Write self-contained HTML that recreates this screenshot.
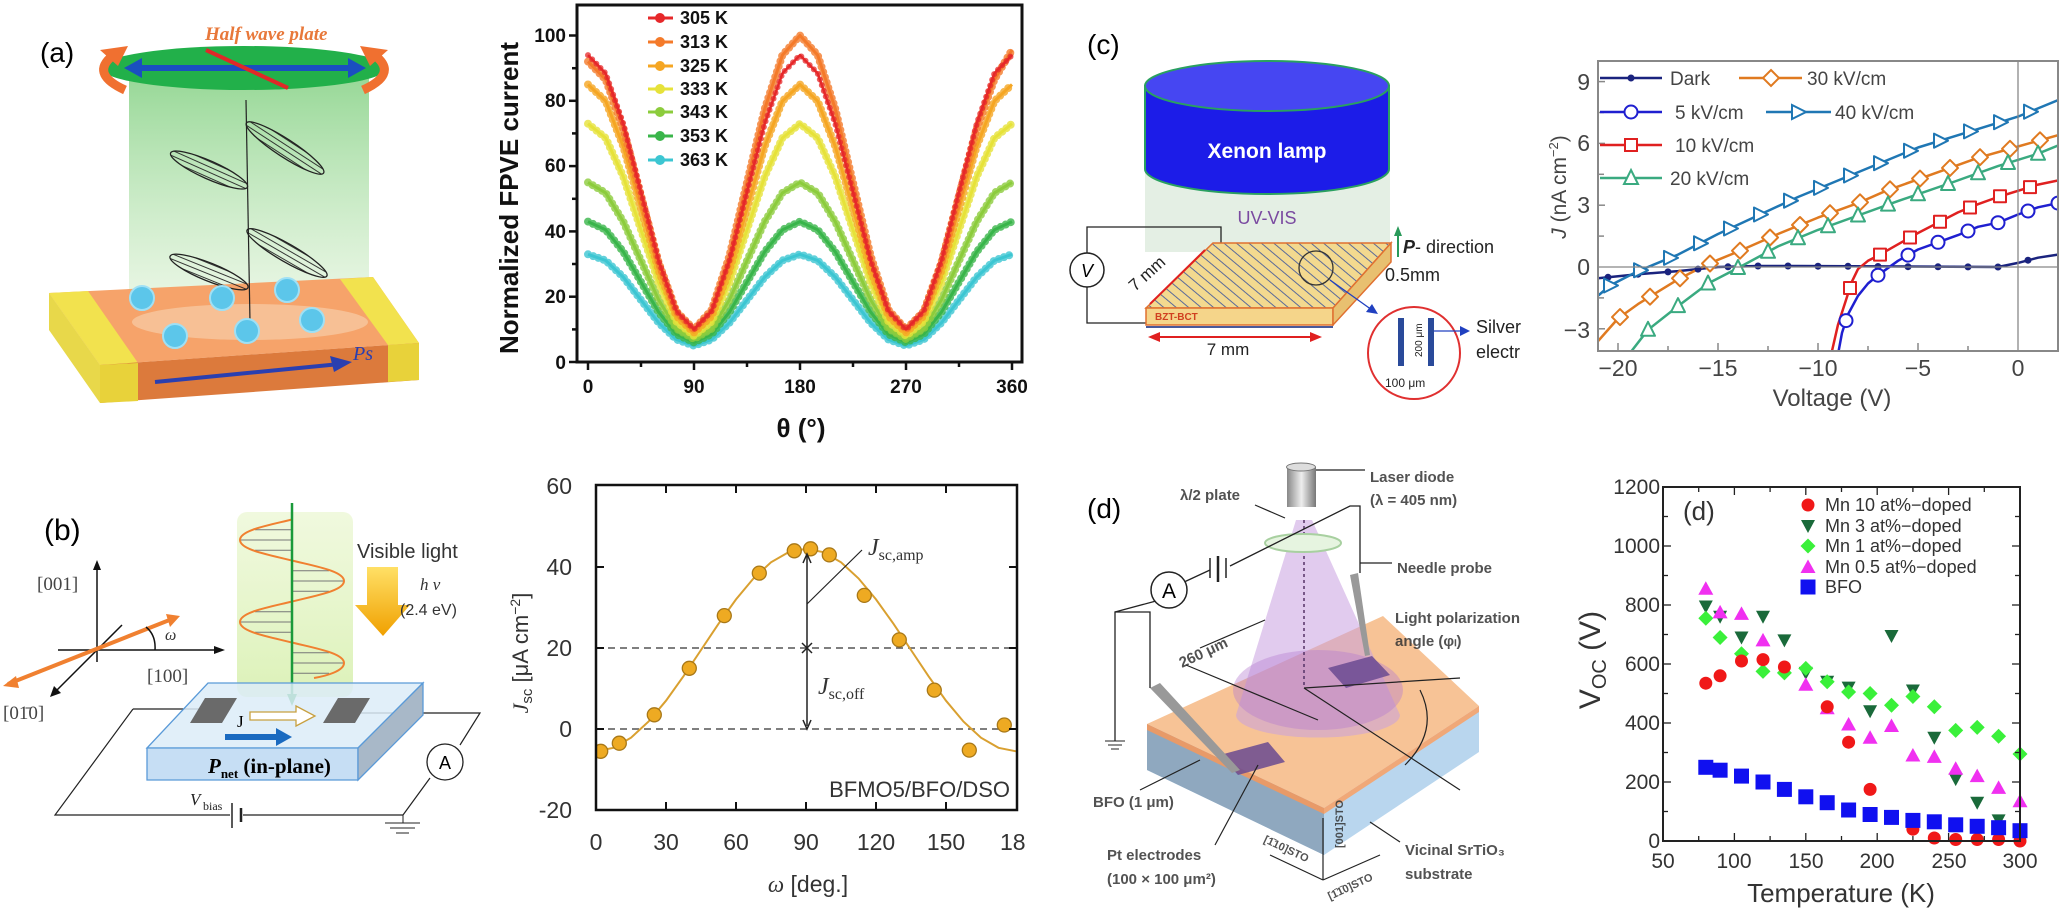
<!DOCTYPE html>
<html><head><meta charset="utf-8">
<style>
html,body{margin:0;padding:0;background:#fff}
svg{display:block}
text{font-family:"Liberation Sans",sans-serif}
.serif{font-family:"Liberation Serif",serif}
</style></head><body>
<svg width="2066" height="911" viewBox="0 0 2066 911" xmlns="http://www.w3.org/2000/svg" xmlns:xlink="http://www.w3.org/1999/xlink">
<defs>
 <linearGradient id="gbeam" x1="0" y1="0" x2="0" y2="1"><stop offset="0" stop-color="#7fcf7f" stop-opacity=".85"/><stop offset="1" stop-color="#e2f3d8" stop-opacity=".5"/></linearGradient>
 <linearGradient id="gbeamb" x1="0" y1="0" x2="0" y2="1"><stop offset="0" stop-color="#e6f5c8" stop-opacity=".6"/><stop offset="1" stop-color="#d8f0b0" stop-opacity=".9"/></linearGradient>
 <linearGradient id="gyel" x1="0" y1="0" x2="0" y2="1"><stop offset="0" stop-color="#ffe066"/><stop offset="1" stop-color="#f0a000"/></linearGradient>
 <linearGradient id="gcyl" x1="0" y1="0" x2="1" y2="0"><stop offset="0" stop-color="#888"/><stop offset=".5" stop-color="#eee"/><stop offset="1" stop-color="#777"/></linearGradient>
 <pattern id="hatch" width="8" height="8" patternUnits="userSpaceOnUse" patternTransform="rotate(-50)"><rect width="8" height="8" fill="#f3d98f"/><line x1="0" y1="0" x2="0" y2="8" stroke="#5a6a9a" stroke-width="2"/></pattern>
 <pattern id="hatchH" width="6" height="5" patternUnits="userSpaceOnUse"><line x1="0" y1="2" x2="6" y2="2" stroke="#222" stroke-width="0.9"/></pattern>
 <clipPath id="clipA"><rect x="578" y="6" width="443" height="355"/></clipPath>
 <clipPath id="clipC"><rect x="1598" y="61" width="460" height="290"/></clipPath>
 <clipPath id="clipB"><rect x="596" y="485" width="421" height="325"/></clipPath>
 <circle id="mDot" r="3.5"/>
 <circle id="mCirc" r="6.5"/>
 <rect id="mSq" x="-6" y="-6" width="12" height="12"/>
 <polygon id="mDia" points="0,-8 8,0 0,8 -8,0"/>
 <polygon id="mTriR" points="8,0 -6,-7 -6,7"/>
 <polygon id="mTriU" points="0,-8 7,6 -7,6"/>
 <circle id="dR" r="6.5"/>
 <polygon id="dG" points="-7,-6 7,-6 0,7"/>
 <polygon id="dL" points="0,-7.5 7.5,0 0,7.5 -7.5,0"/>
 <polygon id="dM" points="0,-7.5 7.5,6 -7.5,6"/>
 <rect id="dB" x="-7.5" y="-7.5" width="15" height="15"/>
 <circle id="bM" r="7"/>
</defs>

<!-- ================= Panel (a) diagram ================= -->
<g>
 <text x="40" y="62" font-size="28">(a)</text>
 <rect x="129" y="67" width="240" height="265" fill="url(#gbeam)"/>
 <polygon points="49,293 373,277 419,343 100,365" fill="#f6a36a"/>
 <polygon points="49,293 88,291 138,363 100,365" fill="#f2e24e"/>
 <polygon points="340,279 373,277 419,343 388,345" fill="#f2e24e"/>
 <polygon points="100,365 419,343 419,380 100,403" fill="#dc7a3c"/>
 <polygon points="100,365 138,363 138,401 100,403" fill="#e8d23a"/>
 <polygon points="388,345 419,343 419,380 388,382" fill="#e8d23a"/>
 <polygon points="49,293 100,365 100,403 49,330" fill="#e8d84a"/>
 <ellipse cx="250" cy="322" rx="118" ry="18" fill="#f8d8b8" opacity=".55"/>
 <line x1="246" y1="100" x2="250" y2="322" stroke="#222" stroke-width="1.2"/>
 <g fill="url(#hatchH)" stroke="#222" stroke-width="1.3">
  <ellipse cx="0" cy="0" rx="46" ry="9" transform="translate(285,148) rotate(33)"/>
  <ellipse cx="0" cy="0" rx="42" ry="9" transform="translate(209,170) rotate(24)"/>
  <ellipse cx="0" cy="0" rx="46" ry="9" transform="translate(287,253) rotate(30)"/>
  <ellipse cx="0" cy="0" rx="42" ry="9" transform="translate(209,272) rotate(22)"/>
 </g>
 <g fill="#5cc6ea" stroke="#9fe0f5" stroke-width="2">
  <circle cx="142" cy="298" r="12"/><circle cx="222" cy="298" r="12"/><circle cx="287" cy="290" r="12"/>
  <circle cx="175" cy="336" r="12"/><circle cx="247" cy="331" r="12"/><circle cx="312" cy="320" r="12"/>
 </g>
 <line x1="155" y1="382" x2="340" y2="364" stroke="#2a3fb0" stroke-width="4"/>
 <polygon points="352,362 330,356 334,372" fill="#2a3fb0"/>
 <text x="353" y="360" class="serif" font-style="italic" font-size="20" fill="#2a3fb0">Ps</text>
 <ellipse cx="244" cy="68" rx="143" ry="22" fill="#22b04a"/>
 <path d="M110,58 Q92,75 125,90" fill="none" stroke="#f07030" stroke-width="9"/>
 <path d="M378,58 Q396,75 363,90" fill="none" stroke="#f07030" stroke-width="9"/>
 <polygon points="100,50 128,46 118,66" fill="#f07030"/><polygon points="388,50 360,46 370,66" fill="#f07030"/>
 <line x1="138" y1="68" x2="352" y2="68" stroke="#1a4fc0" stroke-width="6"/>
 <polygon points="124,68 142,58 142,78" fill="#1a4fc0"/><polygon points="366,68 348,58 348,78" fill="#1a4fc0"/>
 <line x1="206" y1="50" x2="288" y2="88" stroke="#e02828" stroke-width="4"/>
 <text x="205" y="40" class="serif" font-style="italic" font-weight="bold" font-size="19" fill="#e8783a">Half wave plate</text>
</g>

<!-- ================= Panel (a) chart ================= -->
<g>
 <g clip-path="url(#clipA)" fill="none" stroke-linejoin="round">
  <g stroke="#3cc6d2">
   <polyline stroke-width="3" points="588,254.3 605.7,260.5 623.3,277.1 641,300 658.7,322.8 676.4,339.5 694,345.7 711.7,339.5 729.4,322.8 747,300 764.7,277.1 782.4,260.5 800,254.3 817.7,260.5 835.3,277.1 853,300 870.7,322.8 888.4,339.5 906,345.7 923.7,339.5 941.4,322.8 959,300 976.7,277.1 994.4,260.5 1012,254.3"/>
   <polyline stroke-width="8" stroke-linecap="round" stroke-dasharray="0 5.5" stroke-opacity=".8" points="588,254.3 605.7,260.5 623.3,277.1 641,300 658.7,322.8 676.4,339.5 694,345.7 711.7,339.5 729.4,322.8 747,300 764.7,277.1 782.4,260.5 800,254.3 817.7,260.5 835.3,277.1 853,300 870.7,322.8 888.4,339.5 906,345.7 923.7,339.5 941.4,322.8 959,300 976.7,277.1 994.4,260.5 1012,254.3"/>
  </g>
  <g stroke="#3ab54a">
   <polyline stroke-width="3" points="588,221.6 605.7,229.8 623.3,251.8 641,282 658.7,312.2 676.4,334.2 694,342.4 711.7,334.2 729.4,312.2 747,282 764.7,251.8 782.4,229.8 800,221.6 817.7,229.8 835.3,251.8 853,282 870.7,312.2 888.4,334.2 906,342.4 923.7,334.2 941.4,312.2 959,282 976.7,251.8 994.4,229.8 1012,221.6"/>
   <polyline stroke-width="8" stroke-linecap="round" stroke-dasharray="0 5.5" stroke-opacity=".8" points="588,221.6 605.7,229.8 623.3,251.8 641,282 658.7,312.2 676.4,334.2 694,342.4 711.7,334.2 729.4,312.2 747,282 764.7,251.8 782.4,229.8 800,221.6 817.7,229.8 835.3,251.8 853,282 870.7,312.2 888.4,334.2 906,342.4 923.7,334.2 941.4,312.2 959,282 976.7,251.8 994.4,229.8 1012,221.6"/>
  </g>
  <g stroke="#8ccc3c">
   <polyline stroke-width="3" points="588,182.4 605.7,192.9 623.3,221.6 641,260.8 658.7,300 676.4,328.7 694,339.1 711.7,328.7 729.4,300 747,260.8 764.7,221.6 782.4,192.9 800,182.4 817.7,192.9 835.3,221.6 853,260.8 870.7,300 888.4,328.7 906,339.1 923.7,328.7 941.4,300 959,260.8 976.7,221.6 994.4,192.9 1012,182.4"/>
   <polyline stroke-width="8" stroke-linecap="round" stroke-dasharray="0 5.5" stroke-opacity=".8" points="588,182.4 605.7,192.9 623.3,221.6 641,260.8 658.7,300 676.4,328.7 694,339.1 711.7,328.7 729.4,300 747,260.8 764.7,221.6 782.4,192.9 800,182.4 817.7,192.9 835.3,221.6 853,260.8 870.7,300 888.4,328.7 906,339.1 923.7,328.7 941.4,300 959,260.8 976.7,221.6 994.4,192.9 1012,182.4"/>
  </g>
  <g stroke="#e6e23a">
   <polyline stroke-width="3" points="588,123.7 605.7,138 623.3,176.7 641,229.8 658.7,282.8 676.4,321.5 694,335.9 711.7,321.5 729.4,282.8 747,229.8 764.7,176.7 782.4,138 800,123.7 817.7,138 835.3,176.7 853,229.8 870.7,282.8 888.4,321.5 906,335.9 923.7,321.5 941.4,282.8 959,229.8 976.7,176.7 994.4,138 1012,123.7"/>
   <polyline stroke-width="8" stroke-linecap="round" stroke-dasharray="0 5.5" stroke-opacity=".8" points="588,123.7 605.7,138 623.3,176.7 641,229.8 658.7,282.8 676.4,321.5 694,335.9 711.7,321.5 729.4,282.8 747,229.8 764.7,176.7 782.4,138 800,123.7 817.7,138 835.3,176.7 853,229.8 870.7,282.8 888.4,321.5 906,335.9 923.7,321.5 941.4,282.8 959,229.8 976.7,176.7 994.4,138 1012,123.7"/>
  </g>
  <g stroke="#f5a623">
   <polyline stroke-width="3" points="588,84.5 605.7,101.1 623.3,146.5 641,208.5 658.7,270.6 676.4,316 694,332.6 711.7,316 729.4,270.6 747,208.5 764.7,146.5 782.4,101.1 800,84.5 817.7,101.1 835.3,146.5 853,208.5 870.7,270.6 888.4,316 906,332.6 923.7,316 941.4,270.6 959,208.5 976.7,146.5 994.4,101.1 1012,84.5"/>
   <polyline stroke-width="8" stroke-linecap="round" stroke-dasharray="0 5.5" stroke-opacity=".8" points="588,84.5 605.7,101.1 623.3,146.5 641,208.5 658.7,270.6 676.4,316 694,332.6 711.7,316 729.4,270.6 747,208.5 764.7,146.5 782.4,101.1 800,84.5 817.7,101.1 835.3,146.5 853,208.5 870.7,270.6 888.4,316 906,332.6 923.7,316 941.4,270.6 959,208.5 976.7,146.5 994.4,101.1 1012,84.5"/>
  </g>
  <g stroke="#f47a2a">
   <polyline stroke-width="3" points="588,61.6 605.7,79.6 623.3,128.6 641,195.5 658.7,262.4 676.4,311.4 694,329.4 711.7,309.8 729.4,255.9 747,182.4 764.7,108.9 782.4,55.1 800,35.5 817.7,55.1 835.3,108.9 853,182.4 870.7,255.9 888.4,309.8 906,329.4 923.7,311.4 941.4,262.4 959,195.5 976.7,128.6 994.4,79.6 1012,50"/>
   <polyline stroke-width="8" stroke-linecap="round" stroke-dasharray="0 5.5" stroke-opacity=".8" points="588,61.6 605.7,79.6 623.3,128.6 641,195.5 658.7,262.4 676.4,311.4 694,329.4 711.7,309.8 729.4,255.9 747,182.4 764.7,108.9 782.4,55.1 800,35.5 817.7,55.1 835.3,108.9 853,182.4 870.7,255.9 888.4,309.8 906,329.4 923.7,311.4 941.4,262.4 959,195.5 976.7,128.6 994.4,79.6 1012,50"/>
  </g>
  <g stroke="#e6282a">
   <polyline stroke-width="2.5" points="588,55.1 605.7,73.4 623.3,123.7 641,192.2 658.7,260.8 676.4,311 694,329.4 711.7,311 729.4,260.8 747,192.2 764.7,123.7 782.4,73.4 800,55.1 817.7,73.4 835.3,123.7 853,192.2 870.7,260.8 888.4,311 906,329.4 923.7,311 941.4,260.8 959,192.2 976.7,123.7 994.4,73.4 1012,55.1"/>
   <polyline stroke-width="6" stroke-linecap="round" stroke-dasharray="0 6" stroke-opacity=".75" points="588,55.1 605.7,73.4 623.3,123.7 641,192.2 658.7,260.8 676.4,311 694,329.4 711.7,311 729.4,260.8 747,192.2 764.7,123.7 782.4,73.4 800,55.1 817.7,73.4 835.3,123.7 853,192.2 870.7,260.8 888.4,311 906,329.4 923.7,311 941.4,260.8 959,192.2 976.7,123.7 994.4,73.4 1012,55.1"/>
  </g>
 </g>
 <rect x="577" y="5" width="445" height="357" fill="none" stroke="#111" stroke-width="3"/>
 <g stroke="#111" stroke-width="2.5">
  <line x1="577" y1="362" x2="569" y2="362"/><line x1="577" y1="329.4" x2="572" y2="329.4"/><line x1="577" y1="296.7" x2="569" y2="296.7"/><line x1="577" y1="264" x2="572" y2="264"/>
  <line x1="577" y1="231.4" x2="569" y2="231.4"/><line x1="577" y1="198.8" x2="572" y2="198.8"/><line x1="577" y1="166.1" x2="569" y2="166.1"/><line x1="577" y1="133.4" x2="572" y2="133.4"/>
  <line x1="577" y1="100.8" x2="569" y2="100.8"/><line x1="577" y1="68.2" x2="572" y2="68.2"/><line x1="577" y1="35.5" x2="569" y2="35.5"/>
  <line x1="588" y1="362" x2="588" y2="370"/><line x1="641" y1="362" x2="641" y2="367"/><line x1="694" y1="362" x2="694" y2="370"/><line x1="747" y1="362" x2="747" y2="367"/>
  <line x1="800" y1="362" x2="800" y2="370"/><line x1="853" y1="362" x2="853" y2="367"/><line x1="906" y1="362" x2="906" y2="370"/><line x1="959" y1="362" x2="959" y2="367"/><line x1="1012" y1="362" x2="1012" y2="370"/>
 </g>
 <g font-weight="bold" font-size="19" text-anchor="end" fill="#111">
  <text x="566" y="369">0</text><text x="566" y="303">20</text><text x="566" y="238">40</text>
  <text x="566" y="172">60</text><text x="566" y="107">80</text><text x="566" y="42">100</text>
 </g>
 <g font-weight="bold" font-size="19" text-anchor="middle" fill="#111">
  <text x="588" y="393">0</text><text x="694" y="393">90</text><text x="800" y="393">180</text>
  <text x="906" y="393">270</text><text x="1012" y="393">360</text>
 </g>
 <text x="801" y="437" text-anchor="middle" font-size="26" font-weight="bold" fill="#111">θ (°)</text>
 <text transform="translate(518,198) rotate(-90)" text-anchor="middle" font-weight="bold" font-size="26" fill="#111">Normalized FPVE current</text>
 <g stroke-width="3">
  <line x1="648" y1="18" x2="673" y2="18" stroke="#e6282a"/><line x1="648" y1="42" x2="673" y2="42" stroke="#f47a2a"/>
  <line x1="648" y1="66" x2="673" y2="66" stroke="#f5a623"/><line x1="648" y1="89" x2="673" y2="89" stroke="#e6e23a"/>
  <line x1="648" y1="112" x2="673" y2="112" stroke="#8ccc3c"/><line x1="648" y1="136" x2="673" y2="136" stroke="#3ab54a"/>
  <line x1="648" y1="160" x2="673" y2="160" stroke="#3cc6d2"/>
 </g>
 <circle cx="660" cy="18" r="5" fill="#e6282a"/><circle cx="660" cy="42" r="5" fill="#f47a2a"/><circle cx="660" cy="66" r="5" fill="#f5a623"/>
 <circle cx="660" cy="89" r="5" fill="#e6e23a"/><circle cx="660" cy="112" r="5" fill="#8ccc3c"/><circle cx="660" cy="136" r="5" fill="#3ab54a"/><circle cx="660" cy="160" r="5" fill="#3cc6d2"/>
 <g font-weight="bold" font-size="18" fill="#111">
  <text x="680" y="24">305 K</text><text x="680" y="48">313 K</text><text x="680" y="72">325 K</text>
  <text x="680" y="95">333 K</text><text x="680" y="118">343 K</text><text x="680" y="142">353 K</text><text x="680" y="166">363 K</text>
 </g>
</g>

<!-- ================= Panel (b) diagram ================= -->
<g>
 <text x="44" y="540" font-size="30">(b)</text>
 <line x1="97" y1="662" x2="97" y2="565" stroke="#111" stroke-width="1.5"/><polygon points="97,560 93,570 101,570" fill="#111"/>
 <line x1="58" y1="650" x2="220" y2="650" stroke="#111" stroke-width="1.5"/><polygon points="225,650 214,646 214,654" fill="#111"/>
 <line x1="122" y1="625" x2="55" y2="692" stroke="#111" stroke-width="1.5"/><polygon points="50,697 54,686 61,693" fill="#111"/>
 <line x1="8" y1="684" x2="172" y2="619" stroke="#f08030" stroke-width="4"/>
 <polygon points="3,686 16,676 19,688" fill="#f08030"/><polygon points="180,616 166,614 170,627" fill="#f08030"/>
 <path d="M155,650 Q156,635 146,627" fill="none" stroke="#111" stroke-width="1.5"/>
 <text x="165" y="640" class="serif" font-style="italic" font-size="16" fill="#333">ω</text>
 <text x="37" y="590" class="serif" font-size="19" fill="#444">[001]</text>
 <text x="147" y="682" class="serif" font-size="19" fill="#444">[100]</text>
 <text x="3" y="719" class="serif" font-size="19" fill="#444">[01̄0]</text>
 <rect x="237" y="512" width="116" height="185" rx="10" fill="url(#gbeamb)"/>
 <g stroke="#777" stroke-width="1">
  <line x1="292" y1="529.8" x2="255" y2="529.8"/><line x1="292" y1="540" x2="240" y2="540"/><line x1="292" y1="550.3" x2="255" y2="550.3"/>
  <line x1="292" y1="570.8" x2="329" y2="570.8"/><line x1="292" y1="581" x2="344" y2="581"/><line x1="292" y1="591.3" x2="329" y2="591.3"/>
  <line x1="292" y1="611.8" x2="255" y2="611.8"/><line x1="292" y1="622" x2="240" y2="622"/><line x1="292" y1="632.3" x2="255" y2="632.3"/>
  <line x1="292" y1="652.8" x2="329" y2="652.8"/><line x1="292" y1="663" x2="344" y2="663"/><line x1="292" y1="673.3" x2="329" y2="673.3"/>
 </g>
 <path d="M292,519.5 C270,525 240,530 240,540 C240,550 270,555 292,560.5 C314,566 344,571 344,581 C344,591 314,596 292,601.5 C270,607 240,612 240,622 C240,632 270,637 292,642.5 C314,648 344,653 344,663 C344,671 326,676 314,678" fill="none" stroke="#f08030" stroke-width="2"/>
 <line x1="292" y1="503" x2="292" y2="700" stroke="#1a9a3a" stroke-width="2.5"/>
 <polygon points="292,706 287,694 297,694" fill="#1a9a3a"/>
 <text x="357" y="558" font-size="20" fill="#333">Visible light</text>
 <polygon points="367,567 398,567 398,605 410,605 383,636 355,605 367,605" fill="url(#gyel)"/>
 <text x="420" y="590" class="serif" font-style="italic" font-size="17" fill="#333">h ν</text>
 <text x="400" y="615" font-size="16" fill="#333">(2.4 eV)</text>
 <polyline points="133,709 55,815 230,815" fill="none" stroke="#222" stroke-width="1.2"/>
 <polyline points="243,815 403,815 430,778" fill="none" stroke="#222" stroke-width="1.2"/>
 <polyline points="460,745 480,713 345,713" fill="none" stroke="#222" stroke-width="1.2"/>
 <line x1="133" y1="709" x2="200" y2="709" stroke="#222" stroke-width="1.2"/>
 <line x1="232" y1="803" x2="232" y2="828" stroke="#222" stroke-width="1.5"/><line x1="241" y1="808" x2="241" y2="822" stroke="#222" stroke-width="2.5"/>
 <text x="190" y="805" class="serif" font-style="italic" font-size="17" fill="#222">V</text><text x="203" y="810" class="serif" font-size="12" fill="#222">bias</text>
 <circle cx="445" cy="762" r="18" fill="#fff" stroke="#222" stroke-width="1.3"/><text x="445" y="769" text-anchor="middle" font-size="18">A</text>
 <line x1="403" y1="815" x2="403" y2="823" stroke="#222"/><line x1="385" y1="823" x2="420" y2="823" stroke="#222"/><line x1="390" y1="828" x2="415" y2="828" stroke="#222"/><line x1="396" y1="833" x2="409" y2="833" stroke="#222"/>
 <polygon points="208,683 423,683 358,748 147,748" fill="#dcecf8" fill-opacity=".85" stroke="#5a9ad8" stroke-width="1.3"/>
 <polygon points="147,748 358,748 358,780 147,780" fill="#c6def4" stroke="#5a9ad8" stroke-width="1.3"/>
 <polygon points="358,748 423,683 423,715 358,780" fill="#a8b8c8" stroke="#5a9ad8" stroke-width="1.3"/>
 <polygon points="205,698 237,698 222,723 190,723" fill="#6a6a6a"/>
 <polygon points="338,698 370,698 355,723 323,723" fill="#6a6a6a"/>
 <text x="237" y="727" class="serif" font-size="17">J</text>
 <polygon points="250,712 296,712 296,706 315,716 296,726 296,720 250,720" fill="#fff" stroke="#c8a040" stroke-width="1.3"/>
 <line x1="225" y1="737" x2="278" y2="737" stroke="#1a6ac0" stroke-width="6"/><polygon points="292,737 276,728 276,746" fill="#1a6ac0"/>
 <text x="208" y="773" class="serif" font-weight="bold" font-size="21"><tspan font-style="italic">P</tspan><tspan font-size="13" dy="5">net</tspan><tspan dy="-5"> (in-plane)</tspan></text>
</g>

<!-- ================= Panel (b) chart ================= -->
<g>
 <g stroke="#555" stroke-width="1.5" stroke-dasharray="7,5"><line x1="596" y1="648" x2="1017" y2="648"/><line x1="596" y1="729" x2="1017" y2="729"/></g>
 <g clip-path="url(#clipB)">
  <polyline fill="none" stroke="#d9a030" stroke-width="2" points="596,751.3 613.5,747.8 631,737.7 648.5,721.6 666,700.7 683.5,676.2 701,650 718.5,623.8 736,599.4 753.5,578.4 771,562.3 788.5,552.2 806,548.8 823.5,552.2 841,562.3 858.5,578.4 876,599.4 893.5,623.8 911,650 928.5,676.2 946,700.7 963.5,721.6 981,737.7 998.5,747.8 1016,751.3"/>
  <g fill="#eeaa22" stroke="#a87818" stroke-width="1.3">
   <use href="#bM" x="600.7" y="751.3"/><use href="#bM" x="619.3" y="743.2"/><use href="#bM" x="654.3" y="714.8"/><use href="#bM" x="689.3" y="668.3"/>
   <use href="#bM" x="724.3" y="615.6"/><use href="#bM" x="759.3" y="573.1"/><use href="#bM" x="794.3" y="550.8"/><use href="#bM" x="810.6" y="548.8"/>
   <use href="#bM" x="829.3" y="554.9"/><use href="#bM" x="864.3" y="595.4"/><use href="#bM" x="899.3" y="639.9"/><use href="#bM" x="934.3" y="690.1"/>
   <use href="#bM" x="969.3" y="750.1"/><use href="#bM" x="1004.3" y="725"/>
  </g>
 </g>
 <line x1="807" y1="556" x2="807" y2="726" stroke="#222" stroke-width="1.5"/>
 <polyline points="803,563 807,554 811,563" fill="none" stroke="#222" stroke-width="1.5"/>
 <polyline points="803,720 807,729 811,720" fill="none" stroke="#222" stroke-width="1.5"/>
 <path d="M802,643 L812,653 M812,643 L802,653" stroke="#222" stroke-width="1.5"/>
 <line x1="807" y1="604" x2="862" y2="550" stroke="#222" stroke-width="1.2"/>
 <text x="868" y="555" class="serif" font-size="24" fill="#333"><tspan font-style="italic">J</tspan><tspan font-size="16" dy="5">sc,amp</tspan></text>
 <text x="818" y="694" class="serif" font-size="24" fill="#333"><tspan font-style="italic">J</tspan><tspan font-size="16" dy="5">sc,off</tspan></text>
 <text x="1010" y="797" text-anchor="end" font-size="22" fill="#333">BFMO5/BFO/DSO</text>
 <rect x="596" y="485" width="421" height="325" fill="none" stroke="#111" stroke-width="2.5"/>
 <g stroke="#111" stroke-width="2">
  <line x1="666" y1="810" x2="666" y2="802"/><line x1="736" y1="810" x2="736" y2="802"/><line x1="806" y1="810" x2="806" y2="802"/><line x1="876" y1="810" x2="876" y2="802"/><line x1="946" y1="810" x2="946" y2="802"/>
  <line x1="666" y1="485" x2="666" y2="493"/><line x1="736" y1="485" x2="736" y2="493"/><line x1="806" y1="485" x2="806" y2="493"/><line x1="876" y1="485" x2="876" y2="493"/><line x1="946" y1="485" x2="946" y2="493"/>
  <line x1="596" y1="567" x2="604" y2="567"/><line x1="596" y1="648" x2="604" y2="648"/><line x1="596" y1="729" x2="604" y2="729"/>
  <line x1="1017" y1="567" x2="1009" y2="567"/><line x1="1017" y1="648" x2="1009" y2="648"/><line x1="1017" y1="729" x2="1009" y2="729"/>
 </g>
 <g font-size="23" text-anchor="end" fill="#333">
  <text x="572" y="494">60</text><text x="572" y="575">40</text><text x="572" y="656">20</text><text x="572" y="737">0</text><text x="572" y="818">-20</text>
 </g>
 <g font-size="23" text-anchor="middle" fill="#333">
  <text x="596" y="850">0</text><text x="666" y="850">30</text><text x="736" y="850">60</text><text x="806" y="850">90</text>
  <text x="876" y="850">120</text><text x="946" y="850">150</text><text x="1000" y="850" text-anchor="start">18</text>
 </g>
 <text x="808" y="892" text-anchor="middle" font-size="23" fill="#333"><tspan class="serif" font-style="italic">ω</tspan> [deg.]</text>
 <text transform="translate(528,653) rotate(-90)" text-anchor="middle" font-size="22" fill="#333"><tspan class="serif" font-style="italic">J</tspan><tspan font-size="15" dy="4">sc</tspan><tspan dy="-4"> [μA cm</tspan><tspan font-size="14" dy="-8">−2</tspan><tspan dy="8">]</tspan></text>
</g>

<!-- ================= Panel (c) diagram ================= -->
<g>
 <text x="1087" y="54" font-size="28">(c)</text>
 <rect x="1145" y="160" width="245" height="92" fill="#e4efe4"/>
 <path d="M1145,86 L1145,169 A122,25 0 0 0 1389,169 L1389,86 Z" fill="#1c1ce8" stroke="#2aa060" stroke-width="2"/>
 <ellipse cx="1267" cy="86" rx="122" ry="25" fill="#4646f2" stroke="#2aa060" stroke-width="2"/>
 <text x="1267" y="158" text-anchor="middle" font-size="21" font-weight="bold" fill="#fff">Xenon lamp</text>
 <text x="1267" y="224" text-anchor="middle" font-size="18" fill="#7a4aa0">UV-VIS</text>
 <polyline points="1087,253 1087,227 1221,227 1221,270" fill="none" stroke="#222" stroke-width="1.3"/>
 <polyline points="1087,287 1087,323 1146,323" fill="none" stroke="#222" stroke-width="1.3"/>
 <circle cx="1087" cy="270" r="17" fill="#fff" stroke="#222" stroke-width="1.5"/>
 <text x="1087" y="277" text-anchor="middle" font-size="18" font-style="italic">V</text>
 <polygon points="1146,308 1213,243 1391,243 1333,308" fill="url(#hatch)" stroke="#e07030" stroke-width="1.5"/>
 <polygon points="1146,308 1333,308 1333,325 1146,325" fill="#f5d58a" stroke="#e07030" stroke-width="1.5"/>
 <polygon points="1333,308 1391,243 1391,262 1333,325" fill="#e8c070" stroke="#e07030" stroke-width="1.5"/>
 <line x1="1146" y1="327" x2="1333" y2="327" stroke="#4a5a9a" stroke-width="2"/>
 <text x="1155" y="320" font-size="10" font-weight="bold" fill="#d04020">BZT-BCT</text>
 <line x1="1150" y1="304" x2="1205" y2="250" stroke="#e02020" stroke-width="2"/>
 <text transform="translate(1135,292) rotate(-42)" font-size="17" fill="#222">7 mm</text>
 <line x1="1152" y1="337" x2="1318" y2="337" stroke="#e02020" stroke-width="2"/>
 <polygon points="1148,337 1160,332 1160,342" fill="#e02020"/><polygon points="1322,337 1310,332 1310,342" fill="#e02020"/>
 <text x="1228" y="355" text-anchor="middle" font-size="17" fill="#222">7 mm</text>
 <circle cx="1316" cy="268" r="17" fill="none" stroke="#333" stroke-width="1.3"/>
 <line x1="1330" y1="280" x2="1372" y2="310" stroke="#2040c0" stroke-width="1.3"/><polygon points="1378,314 1366,312 1372,304" fill="#2040c0"/>
 <line x1="1398" y1="257" x2="1398" y2="232" stroke="#2a9a5a" stroke-width="2"/><polygon points="1398,226 1394,236 1402,236" fill="#2a9a5a"/>
 <text x="1403" y="253" font-size="18" fill="#222"><tspan font-style="italic" font-weight="bold">P</tspan>- direction</text>
 <text x="1385" y="281" font-size="18" fill="#222">0.5mm</text>
 <circle cx="1414" cy="353" r="46" fill="#fff" stroke="#e03030" stroke-width="2"/>
 <rect x="1398" y="318" width="6" height="48" fill="#2a4a9a"/><rect x="1428" y="318" width="6" height="48" fill="#2a4a9a"/>
 <text transform="translate(1422,357) rotate(-90)" font-size="10" fill="#222">200 μm</text>
 <text x="1385" y="387" font-size="12" fill="#222">100 μm</text>
 <line x1="1434" y1="331" x2="1462" y2="331" stroke="#2040c0" stroke-width="1.3"/><polygon points="1470,331 1460,326 1460,336" fill="#2040c0"/>
 <text x="1476" y="333" font-size="18" fill="#222">Silver</text>
 <text x="1476" y="358" font-size="18" fill="#222">electr</text>
</g>

<!-- ================= Panel (d) diagram ================= -->
<g>
 <text x="1087" y="518" font-size="28">(d)</text>
 <polygon points="1147,770 1324,855 1479,752 1479,706 1324,808 1147,724" fill="#b9d6ee"/>
 <polygon points="1147,724 1324,808 1324,855 1147,770" fill="#8fa8bf"/>
 <polygon points="1147,724 1383,616 1479,706 1324,808" fill="#f7c396"/>
 <polygon points="1147,724 1324,808 1324,814 1147,730" fill="#e89a68"/>
 <polygon points="1324,808 1479,706 1479,712 1324,814" fill="#f0a878"/>
 <path d="M1296,520 L1312,520 L1400,715 A80,22 0 0 1 1236,715 Z" fill="#c8a0e0" opacity=".55"/>
 <ellipse cx="1318" cy="690" rx="85" ry="40" fill="#b47ad0" opacity=".4"/>
 <polygon points="1220,755 1268,742 1285,762 1238,775" fill="#6a4a90" opacity=".85"/>
 <polygon points="1328,668 1372,656 1390,675 1346,688" fill="#6a4a90" opacity=".85"/>
 <line x1="1304" y1="520" x2="1304" y2="688" stroke="#553366" stroke-width="1.5" stroke-dasharray="3,3"/>
 <line x1="1304" y1="688" x2="1460" y2="678" stroke="#222" stroke-width="1.2"/>
 <line x1="1304" y1="688" x2="1460" y2="790" stroke="#222" stroke-width="1.2"/>
 <path d="M1420,690 Q1440,730 1405,765" fill="none" stroke="#222" stroke-width="1.2"/>
 <rect x="1287" y="467" width="29" height="40" fill="url(#gcyl)"/>
 <ellipse cx="1301" cy="467" rx="14.5" ry="4" fill="#ddd" stroke="#777"/>
 <ellipse cx="1303" cy="543" rx="38" ry="9" fill="#e6f4e0" stroke="#a8d0a0" stroke-width="2"/>
 <polygon points="1150,688 1160,683 1240,770 1232,773" fill="#999"/>
 <polygon points="1350,575 1358,573 1370,655 1365,656" fill="#999"/>
 <polyline points="1115,741 1115,612 1150,612 1150,688" fill="none" stroke="#222" stroke-width="1.3"/>
 <line x1="1115" y1="612" x2="1156" y2="601" stroke="#222" stroke-width="1.3"/>
 <polyline points="1182,583 1210,570" fill="none" stroke="#222" stroke-width="1.3"/>
 <line x1="1210" y1="558" x2="1210" y2="578" stroke="#222" stroke-width="1.5"/><line x1="1218" y1="556" x2="1218" y2="582" stroke="#222" stroke-width="2.5"/><line x1="1226" y1="558" x2="1226" y2="578" stroke="#222" stroke-width="1.5"/>
 <polyline points="1230,566 1350,506 1360,506 1360,573" fill="none" stroke="#222" stroke-width="1.3"/>
 <circle cx="1169" cy="590" r="18" fill="#fff" stroke="#222" stroke-width="1.5"/>
 <text x="1169" y="598" text-anchor="middle" font-size="21">A</text>
 <line x1="1105" y1="741" x2="1125" y2="741" stroke="#222"/><line x1="1108" y1="745" x2="1122" y2="745" stroke="#222"/><line x1="1111" y1="749" x2="1119" y2="749" stroke="#222"/>
 <line x1="1186" y1="665" x2="1318" y2="720" stroke="#222" stroke-width="1.2"/>
 <line x1="1200" y1="648" x2="1265" y2="620" stroke="#222" stroke-width="1.2"/>
 <line x1="1316" y1="470" x2="1365" y2="470" stroke="#222" stroke-width="1.2"/>
 <line x1="1255" y1="505" x2="1285" y2="518" stroke="#222" stroke-width="1.2"/>
 <line x1="1360" y1="563" x2="1392" y2="563" stroke="#222" stroke-width="1.2"/>
 <line x1="1140" y1="790" x2="1200" y2="760" stroke="#222" stroke-width="1.2"/>
 <line x1="1215" y1="845" x2="1258" y2="765" stroke="#222" stroke-width="1.2"/>
 <line x1="1400" y1="842" x2="1370" y2="822" stroke="#222" stroke-width="1.2"/>
 <line x1="1323" y1="880" x2="1323" y2="818" stroke="#222" stroke-width="1.2"/>
 <line x1="1323" y1="880" x2="1270" y2="855" stroke="#222" stroke-width="1.2"/>
 <line x1="1323" y1="880" x2="1380" y2="855" stroke="#222" stroke-width="1.2"/>
 <g font-size="15" fill="#333" font-weight="bold" opacity=".85">
  <text x="1370" y="482">Laser diode</text><text x="1370" y="505">(λ = 405 nm)</text>
  <text x="1180" y="500">λ/2 plate</text>
  <text x="1397" y="573">Needle probe</text>
  <text x="1395" y="623">Light polarization</text><text x="1395" y="646">angle (φₗ)</text>
  <text transform="translate(1182,668) rotate(-25)">260 μm</text>
  <text x="1093" y="807">BFO (1 μm)</text>
  <text x="1107" y="860">Pt electrodes</text><text x="1107" y="884">(100 × 100 μm²)</text>
  <text x="1405" y="855">Vicinal SrTiO₃</text><text x="1405" y="879">substrate</text>
  <text transform="translate(1343,848) rotate(-90)" font-size="11">[001]STO</text>
  <text transform="translate(1263,842) rotate(25)" font-size="11">[1̄10]STO</text>
  <text transform="translate(1330,900) rotate(-25)" font-size="11">[1̄1̄0]STO</text>
 </g>
</g>

<!-- ================= Panel (c) chart ================= -->
<g>
 <g clip-path="url(#clipC)" fill="none" stroke-width="2.5" stroke-linejoin="round">
  <polyline stroke="#1a237e" points="1598,278.3 1638,274.2 1678,271.1 1718,267 1758,266 1798,266 1998,267 2018,262.9 2038,257.7 2058,254.6"/>
  <polyline stroke="#1f77b4" points="1598,295.8 1610,285.5 1638,271.1 1678,254.6 1718,234 1758,215.5 1798,197 1838,180.5 1878,164 1918,147.5 1958,135.2 1998,122.8 2018,116.6 2038,108.4 2058,100.1"/>
  <polyline stroke="#e07a20" points="1598,341.2 1618,318.5 1638,304.1 1658,291.7 1678,279.4 1698,269.1 1718,259.8 1738,251.6 1778,234 1818,217.6 1858,203.1 1886,190.8 1938,172.2 1978,157.8 2018,146.5 2058,135.2"/>
  <polyline stroke="#3aaa80" points="1628,355.6 1648,329.8 1678,306.1 1708,283.5 1738,268 1778,246.4 1818,229.9 1858,215.5 1898,201.1 1952,182.5 1998,166.1 2038,153.7 2058,145.5"/>
  <polyline stroke="#e02020" points="1830,359.7 1838,324.7 1846,300 1852,281.4 1858,269.1 1868,260.8 1878,255.7 1898,244.3 1918,233 1938,222.7 1958,212.4 1978,204.2 1998,197 2018,190.8 2038,184.6 2058,180.5"/>
  <polyline stroke="#1f1fd0" points="1837,359.7 1842,332.9 1848,314.4 1858,295.8 1868,283.5 1878,275.2 1898,260.8 1918,249.5 1938,242.3 1958,235.1 1978,226.8 1998,222.7 2018,214.5 2038,207.3 2058,203.1"/>
  <g fill="#1a237e" stroke="none">
   <use href="#mDot" x="1608" y="277.3"/><use href="#mDot" x="1638" y="274.2"/><use href="#mDot" x="1668" y="271.9"/><use href="#mDot" x="1698" y="269.1"/>
   <use href="#mDot" x="1728" y="266.8"/><use href="#mDot" x="1758" y="266"/><use href="#mDot" x="1788" y="266"/><use href="#mDot" x="1818" y="266.2"/>
   <use href="#mDot" x="1848" y="266.3"/><use href="#mDot" x="1878" y="266.5"/><use href="#mDot" x="1908" y="266.7"/><use href="#mDot" x="1938" y="266.8"/>
   <use href="#mDot" x="1968" y="266.9"/><use href="#mDot" x="1998" y="267"/><use href="#mDot" x="2028" y="260.2"/>
  </g>
  <g fill="#fff" stroke="#1f77b4" stroke-width="2">
   <use href="#mTriR" x="1610" y="285.5"/><use href="#mTriR" x="1640" y="270.3"/><use href="#mTriR" x="1670" y="257.9"/><use href="#mTriR" x="1700" y="243.3"/>
   <use href="#mTriR" x="1730" y="228.5"/><use href="#mTriR" x="1760" y="214.5"/><use href="#mTriR" x="1790" y="200.7"/><use href="#mTriR" x="1820" y="187.9"/>
   <use href="#mTriR" x="1850" y="175.5"/><use href="#mTriR" x="1880" y="163.2"/><use href="#mTriR" x="1910" y="150.8"/><use href="#mTriR" x="1940" y="140.7"/>
   <use href="#mTriR" x="1970" y="131.4"/><use href="#mTriR" x="2000" y="122.2"/><use href="#mTriR" x="2030" y="111.7"/>
  </g>
  <g fill="#fff" stroke="#e07a20" stroke-width="2">
   <use href="#mDia" x="1620" y="317.1"/><use href="#mDia" x="1650" y="296.7"/><use href="#mDia" x="1680" y="278.3"/><use href="#mDia" x="1710" y="263.5"/>
   <use href="#mDia" x="1740" y="250.7"/><use href="#mDia" x="1770" y="237.5"/><use href="#mDia" x="1800" y="225"/><use href="#mDia" x="1830" y="213.2"/>
   <use href="#mDia" x="1860" y="202.3"/><use href="#mDia" x="1890" y="189.3"/><use href="#mDia" x="1920" y="178.6"/><use href="#mDia" x="1950" y="167.9"/>
   <use href="#mDia" x="1980" y="157.2"/><use href="#mDia" x="2010" y="148.8"/><use href="#mDia" x="2040" y="140.3"/>
  </g>
  <g fill="#fff" stroke="#3aaa80" stroke-width="2">
   <use href="#mTriU" x="1648" y="329.8"/><use href="#mTriU" x="1678" y="306.1"/><use href="#mTriU" x="1708" y="283.5"/><use href="#mTriU" x="1738" y="268"/>
   <use href="#mTriU" x="1768" y="251.8"/><use href="#mTriU" x="1798" y="238.2"/><use href="#mTriU" x="1828" y="226.2"/><use href="#mTriU" x="1858" y="215.5"/>
   <use href="#mTriU" x="1888" y="204.6"/><use href="#mTriU" x="1918" y="194.3"/><use href="#mTriU" x="1948" y="184"/><use href="#mTriU" x="1978" y="173.3"/>
   <use href="#mTriU" x="2008" y="163"/><use href="#mTriU" x="2038" y="153.7"/>
  </g>
  <g fill="#fff" stroke="#e02020" stroke-width="2">
   <use href="#mSq" x="1850" y="288"/><use href="#mSq" x="1880" y="254.6"/><use href="#mSq" x="1910" y="237.5"/><use href="#mSq" x="1940" y="221.7"/>
   <use href="#mSq" x="1970" y="207.5"/><use href="#mSq" x="2000" y="196.3"/><use href="#mSq" x="2030" y="187.1"/>
  </g>
  <g fill="#fff" stroke="#1f1fd0" stroke-width="2">
   <use href="#mCirc" x="1846" y="320.6"/><use href="#mCirc" x="1878" y="275.2"/><use href="#mCirc" x="1908" y="255.1"/><use href="#mCirc" x="1938" y="242.3"/>
   <use href="#mCirc" x="1968" y="231"/><use href="#mCirc" x="1998" y="222.7"/><use href="#mCirc" x="2028" y="211"/><use href="#mCirc" x="2058" y="203.1"/>
  </g>
 </g>
 <line x1="1598" y1="267" x2="2058" y2="267" stroke="#888" stroke-width="1.3"/>
 <line x1="2018" y1="61" x2="2018" y2="351" stroke="#888" stroke-width="1.3"/>
 <rect x="1598" y="61" width="460" height="290" fill="none" stroke="#888" stroke-width="2"/>
 <g stroke="#888" stroke-width="1.5">
  <line x1="1598" y1="328.8" x2="1605" y2="328.8"/><line x1="1598" y1="297.9" x2="1604" y2="297.9"/><line x1="1598" y1="236.1" x2="1604" y2="236.1"/>
  <line x1="1598" y1="205.2" x2="1605" y2="205.2"/><line x1="1598" y1="174.3" x2="1604" y2="174.3"/><line x1="1598" y1="143.4" x2="1605" y2="143.4"/>
  <line x1="1598" y1="112.5" x2="1604" y2="112.5"/><line x1="1598" y1="81.6" x2="1605" y2="81.6"/>
  <line x1="1618" y1="351" x2="1618" y2="343"/><line x1="1668" y1="351" x2="1668" y2="346"/><line x1="1718" y1="351" x2="1718" y2="343"/><line x1="1768" y1="351" x2="1768" y2="346"/>
  <line x1="1818" y1="351" x2="1818" y2="343"/><line x1="1868" y1="351" x2="1868" y2="346"/><line x1="1918" y1="351" x2="1918" y2="343"/><line x1="1968" y1="351" x2="1968" y2="346"/>
 </g>
 <g stroke-width="2.5">
  <line x1="1600" y1="78" x2="1662" y2="78" stroke="#1a237e"/><line x1="1739" y1="78" x2="1802" y2="78" stroke="#e07a20"/>
  <line x1="1600" y1="112" x2="1662" y2="112" stroke="#1f1fd0"/><line x1="1766" y1="112" x2="1831" y2="112" stroke="#1f77b4"/>
  <line x1="1600" y1="145" x2="1662" y2="145" stroke="#e02020"/><line x1="1600" y1="178" x2="1662" y2="178" stroke="#3aaa80"/>
 </g>
 <use href="#mDot" x="1631" y="78" fill="#1a237e"/>
 <use href="#mDia" x="1771" y="78" fill="#fff" stroke="#e07a20" stroke-width="2"/>
 <use href="#mCirc" x="1631" y="112" fill="#fff" stroke="#1f1fd0" stroke-width="2"/>
 <use href="#mTriR" x="1798" y="112" fill="#fff" stroke="#1f77b4" stroke-width="2"/>
 <use href="#mSq" x="1631" y="145" fill="#fff" stroke="#e02020" stroke-width="2"/>
 <use href="#mTriU" x="1631" y="178" fill="#fff" stroke="#3aaa80" stroke-width="2"/>
 <g font-size="19" fill="#444">
  <text x="1670" y="85">Dark</text><text x="1807" y="85">30 kV/cm</text>
  <text x="1675" y="119">5 kV/cm</text><text x="1835" y="119">40 kV/cm</text>
  <text x="1675" y="152">10 kV/cm</text><text x="1670" y="185">20 kV/cm</text>
 </g>
 <g font-size="23" text-anchor="end" fill="#444">
  <text x="1590" y="90">9</text><text x="1590" y="151">6</text><text x="1590" y="213">3</text><text x="1590" y="275">0</text><text x="1590" y="338">−3</text>
 </g>
 <g font-size="23" text-anchor="middle" fill="#444">
  <text x="1618" y="376">−20</text><text x="1718" y="376">−15</text><text x="1818" y="376">−10</text><text x="1918" y="376">−5</text><text x="2018" y="376">0</text>
 </g>
 <text x="1832" y="406" text-anchor="middle" font-size="24" fill="#444">Voltage (V)</text>
 <text transform="translate(1566,187) rotate(-90)" text-anchor="middle" font-size="21" fill="#444"><tspan font-style="italic">J</tspan> (nA cm<tspan font-size="13" dy="-8">−2</tspan><tspan dy="8">)</tspan></text>
</g>

<!-- ================= Panel (d) chart ================= -->
<g>
 <g fill="#1a6a3a">
  <use href="#dG" x="1705.8" y="606.5"/><use href="#dG" x="1720.1" y="616.8"/><use href="#dG" x="1741.5" y="637.5"/><use href="#dG" x="1763" y="616.8"/>
  <use href="#dG" x="1784.4" y="640.4"/><use href="#dG" x="1805.8" y="672.9"/><use href="#dG" x="1827.2" y="681.7"/><use href="#dG" x="1848.6" y="687.6"/>
  <use href="#dG" x="1870.1" y="711.2"/><use href="#dG" x="1891.5" y="636"/><use href="#dG" x="1912.9" y="690.5"/><use href="#dG" x="1934.3" y="737.8"/>
  <use href="#dG" x="1955.7" y="779.1"/><use href="#dG" x="1977.2" y="802.7"/><use href="#dG" x="1998.6" y="820.4"/>
 </g>
 <g fill="#3af03a">
  <use href="#dL" x="1705.8" y="618.3"/><use href="#dL" x="1720.1" y="637.5"/><use href="#dL" x="1741.5" y="653.7"/><use href="#dL" x="1763" y="671.4"/>
  <use href="#dL" x="1784.4" y="672.9"/><use href="#dL" x="1805.8" y="668.4"/><use href="#dL" x="1827.2" y="681.7"/><use href="#dL" x="1848.6" y="692"/>
  <use href="#dL" x="1870.1" y="693.5"/><use href="#dL" x="1891.5" y="705.3"/><use href="#dL" x="1912.9" y="696.5"/><use href="#dL" x="1934.3" y="706.8"/>
  <use href="#dL" x="1955.7" y="730.4"/><use href="#dL" x="1977.2" y="727.4"/><use href="#dL" x="1998.6" y="736.3"/><use href="#dL" x="2020" y="754"/>
 </g>
 <g fill="#f030f0">
  <use href="#dM" x="1705.8" y="588.8"/><use href="#dM" x="1720.1" y="612.4"/><use href="#dM" x="1741.5" y="613.9"/><use href="#dM" x="1763" y="640.4"/>
  <use href="#dM" x="1805.8" y="684.7"/><use href="#dM" x="1827.2" y="708.3"/><use href="#dM" x="1848.6" y="724.5"/>
  <use href="#dM" x="1870.1" y="737.8"/><use href="#dM" x="1891.5" y="726"/><use href="#dM" x="1912.9" y="755.5"/><use href="#dM" x="1934.3" y="756.9"/>
  <use href="#dM" x="1955.7" y="768.7"/><use href="#dM" x="1977.2" y="776.1"/><use href="#dM" x="1998.6" y="787.9"/><use href="#dM" x="2020" y="801.2"/>
 </g>
 <g fill="#f01818">
  <use href="#dR" x="1705.8" y="683.2"/><use href="#dR" x="1720.1" y="675.8"/><use href="#dR" x="1741.5" y="661"/><use href="#dR" x="1763" y="659.6"/>
  <use href="#dR" x="1784.4" y="667"/><use href="#dR" x="1827.2" y="706.8"/><use href="#dR" x="1848.6" y="742.2"/><use href="#dR" x="1870.1" y="789.4"/>
  <use href="#dR" x="1912.9" y="829.2"/><use href="#dR" x="1934.3" y="838"/><use href="#dR" x="1955.7" y="839.5"/><use href="#dR" x="1977.2" y="839.5"/>
  <use href="#dR" x="1998.6" y="839.5"/><use href="#dR" x="2020" y="841"/>
 </g>
 <g fill="#1010f0">
  <use href="#dB" x="1705.8" y="767.3"/><use href="#dB" x="1720.1" y="770.2"/><use href="#dB" x="1741.5" y="776.1"/><use href="#dB" x="1763" y="782"/>
  <use href="#dB" x="1784.4" y="789.4"/><use href="#dB" x="1805.8" y="796.8"/><use href="#dB" x="1827.2" y="802.7"/><use href="#dB" x="1848.6" y="810"/>
  <use href="#dB" x="1870.1" y="814.5"/><use href="#dB" x="1891.5" y="817.4"/><use href="#dB" x="1912.9" y="820.4"/><use href="#dB" x="1934.3" y="821.8"/>
  <use href="#dB" x="1955.7" y="824.8"/><use href="#dB" x="1977.2" y="826.3"/><use href="#dB" x="1998.6" y="827.7"/><use href="#dB" x="2020" y="830.7"/>
 </g>
 <rect x="1663" y="487" width="357" height="354" fill="none" stroke="#222" stroke-width="2"/>
 <g stroke="#222" stroke-width="1.3">
  <line x1="1663" y1="811.5" x2="1668" y2="811.5"/><line x1="1663" y1="782" x2="1671" y2="782"/><line x1="1663" y1="752.5" x2="1668" y2="752.5"/><line x1="1663" y1="723" x2="1671" y2="723"/>
  <line x1="1663" y1="693.5" x2="1668" y2="693.5"/><line x1="1663" y1="664" x2="1671" y2="664"/><line x1="1663" y1="634.5" x2="1668" y2="634.5"/><line x1="1663" y1="605" x2="1671" y2="605"/>
  <line x1="1663" y1="575.5" x2="1668" y2="575.5"/><line x1="1663" y1="546" x2="1671" y2="546"/><line x1="1663" y1="516.5" x2="1668" y2="516.5"/>
  <line x1="2020" y1="811.5" x2="2015" y2="811.5"/><line x1="2020" y1="782" x2="2012" y2="782"/><line x1="2020" y1="752.5" x2="2015" y2="752.5"/><line x1="2020" y1="723" x2="2012" y2="723"/>
  <line x1="2020" y1="693.5" x2="2015" y2="693.5"/><line x1="2020" y1="664" x2="2012" y2="664"/><line x1="2020" y1="634.5" x2="2015" y2="634.5"/><line x1="2020" y1="605" x2="2012" y2="605"/>
  <line x1="2020" y1="575.5" x2="2015" y2="575.5"/><line x1="2020" y1="546" x2="2012" y2="546"/><line x1="2020" y1="516.5" x2="2015" y2="516.5"/>
  <line x1="1698.7" y1="841" x2="1698.7" y2="836"/><line x1="1734.4" y1="841" x2="1734.4" y2="833"/><line x1="1770.1" y1="841" x2="1770.1" y2="836"/><line x1="1805.8" y1="841" x2="1805.8" y2="833"/>
  <line x1="1841.5" y1="841" x2="1841.5" y2="836"/><line x1="1877.2" y1="841" x2="1877.2" y2="833"/><line x1="1912.9" y1="841" x2="1912.9" y2="836"/><line x1="1948.6" y1="841" x2="1948.6" y2="833"/><line x1="1984.3" y1="841" x2="1984.3" y2="836"/>
  <line x1="1698.7" y1="487" x2="1698.7" y2="492"/><line x1="1734.4" y1="487" x2="1734.4" y2="495"/><line x1="1770.1" y1="487" x2="1770.1" y2="492"/><line x1="1805.8" y1="487" x2="1805.8" y2="495"/>
  <line x1="1841.5" y1="487" x2="1841.5" y2="492"/><line x1="1877.2" y1="487" x2="1877.2" y2="495"/><line x1="1912.9" y1="487" x2="1912.9" y2="492"/><line x1="1948.6" y1="487" x2="1948.6" y2="495"/><line x1="1984.3" y1="487" x2="1984.3" y2="492"/>
 </g>
 <text x="1683" y="520" font-size="26" fill="#333">(d)</text>
 <use href="#dR" x="1808" y="505" fill="#f01818"/>
 <use href="#dG" x="1808" y="526" fill="#1a6a3a"/>
 <use href="#dL" x="1808" y="546" fill="#3af03a"/>
 <use href="#dM" x="1808" y="567" fill="#f030f0"/>
 <use href="#dB" x="1808" y="587" fill="#1010f0"/>
 <g font-size="18" fill="#333">
  <text x="1825" y="511">Mn 10 at%−doped</text><text x="1825" y="532">Mn 3 at%−doped</text>
  <text x="1825" y="552">Mn 1 at%−doped</text><text x="1825" y="573">Mn 0.5 at%−doped</text><text x="1825" y="593">BFO</text>
 </g>
 <g font-size="21" text-anchor="end" fill="#333">
  <text x="1660" y="848">0</text><text x="1660" y="789">200</text><text x="1660" y="730">400</text><text x="1660" y="671">600</text>
  <text x="1660" y="612">800</text><text x="1660" y="553">1000</text><text x="1660" y="494">1200</text>
 </g>
 <g font-size="21" text-anchor="middle" fill="#333">
  <text x="1663" y="868">50</text><text x="1734" y="868">100</text><text x="1806" y="868">150</text>
  <text x="1877" y="868">200</text><text x="1949" y="868">250</text><text x="2020" y="868">300</text>
 </g>
 <text x="1841" y="902" text-anchor="middle" font-size="26" fill="#333">Temperature (K)</text>
 <text transform="translate(1600,660) rotate(-90)" text-anchor="middle" font-size="30" fill="#333">V<tspan font-size="20" dy="6">OC</tspan><tspan dy="-6"> (V)</tspan></text>
</g>
</svg>
</body></html>
